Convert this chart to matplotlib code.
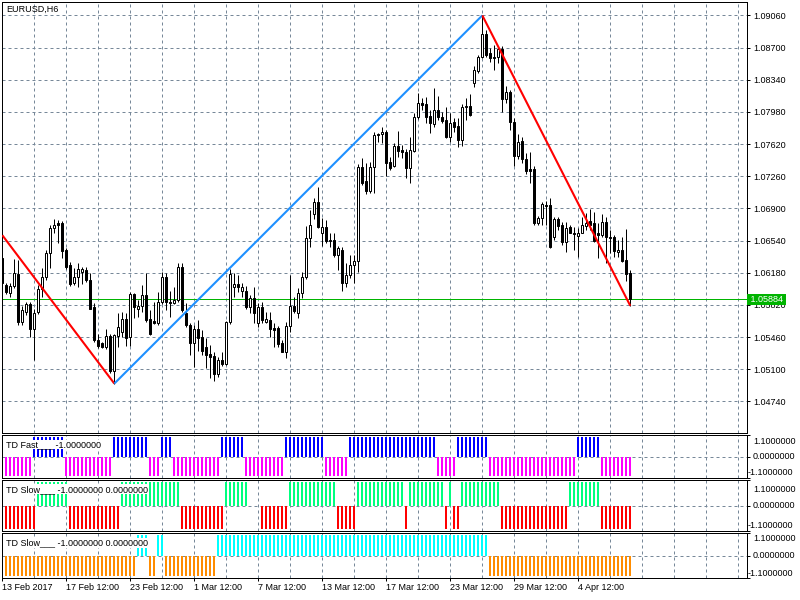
import numpy as np
import matplotlib.pyplot as plt
from matplotlib.transforms import blended_transform_factory

plt.rcParams['font.family'] = ['Liberation Sans', 'DejaVu Sans']
plt.rcParams['font.size'] = 6.5

W, H = 800, 600

# ------------------------------------------------------------
# data: EURUSD H6 candles, bar 0 = 13 Feb 2017 12:00
# ------------------------------------------------------------
opens = [1.0634, 1.0604, 1.0595, 1.0603, 1.0617, 1.0563, 1.0574, 1.0583, 1.0555, 1.0574,
         1.0600, 1.0613, 1.0640, 1.0668, 1.0674, 1.0674, 1.0643, 1.0627, 1.0606, 1.0613,
         1.0619, 1.0621, 1.0610, 1.0580, 1.0543, 1.0539, 1.0535, 1.0547, 1.0508, 1.0547,
         1.0552, 1.0566, 1.0546, 1.0594, 1.0578, 1.0581, 1.0593, 1.0566, 1.0564, 1.0562,
         1.0585, 1.0613, 1.0585, 1.0584, 1.0587, 1.0624, 1.0573, 1.0559, 1.0539, 1.0555,
         1.0546, 1.0535, 1.0527, 1.0525, 1.0505, 1.0520, 1.0516, 1.0563, 1.0602, 1.0605,
         1.0598, 1.0598, 1.0580, 1.0590, 1.0562, 1.0580, 1.0563, 1.0565, 1.0556, 1.0556,
         1.0539, 1.0529, 1.0558, 1.0581, 1.0573, 1.0595, 1.0613, 1.0657, 1.0684, 1.0697,
         1.0663, 1.0669, 1.0653, 1.0655, 1.0638, 1.0644, 1.0606, 1.0615, 1.0627, 1.0631,
         1.0736, 1.0721, 1.0710, 1.0736, 1.0773, 1.0773, 1.0776, 1.0742, 1.0737, 1.0760,
         1.0755, 1.0753, 1.0735, 1.0754, 1.0792, 1.0808, 1.0807, 1.0793, 1.0784, 1.0800,
         1.0792, 1.0789, 1.0770, 1.0787, 1.0782, 1.0767, 1.0803, 1.0805, 1.0830, 1.0844,
         1.0859, 1.0885, 1.0864, 1.0859, 1.0859, 1.0868, 1.0812, 1.0820, 1.0787, 1.0749,
         1.0765, 1.0745, 1.0734, 1.0734, 1.0674, 1.0679, 1.0694, 1.0694, 1.0658, 1.0678,
         1.0671, 1.0652, 1.0669, 1.0663, 1.0659, 1.0663, 1.0670, 1.0676, 1.0674, 1.0662,
         1.0660, 1.0675, 1.0658, 1.0658, 1.0641, 1.0644, 1.0632, 1.0618]
highs = [1.0638, 1.0606, 1.0606, 1.0633, 1.0632, 1.0581, 1.0585, 1.0585, 1.0577, 1.0604,
         1.0623, 1.0643, 1.0672, 1.0678, 1.0677, 1.0676, 1.0646, 1.0630, 1.0623, 1.0629,
         1.0624, 1.0625, 1.0618, 1.0584, 1.0550, 1.0540, 1.0555, 1.0549, 1.0550, 1.0573,
         1.0574, 1.0573, 1.0596, 1.0595, 1.0587, 1.0604, 1.0618, 1.0576, 1.0585, 1.0596,
         1.0619, 1.0618, 1.0598, 1.0602, 1.0629, 1.0629, 1.0584, 1.0562, 1.0559, 1.0565,
         1.0554, 1.0545, 1.0537, 1.0529, 1.0524, 1.0529, 1.0564, 1.0622, 1.0618, 1.0615,
         1.0606, 1.0603, 1.0593, 1.0602, 1.0584, 1.0585, 1.0574, 1.0574, 1.0562, 1.0558,
         1.0543, 1.0563, 1.0615, 1.0591, 1.0601, 1.0619, 1.0670, 1.0688, 1.0702, 1.0714,
         1.0679, 1.0677, 1.0662, 1.0662, 1.0648, 1.0647, 1.0629, 1.0638, 1.0638, 1.0740,
         1.0746, 1.0741, 1.0742, 1.0776, 1.0774, 1.0781, 1.0778, 1.0747, 1.0763, 1.0777,
         1.0761, 1.0757, 1.0770, 1.0797, 1.0819, 1.0814, 1.0815, 1.0800, 1.0825, 1.0816,
         1.0798, 1.0803, 1.0797, 1.0791, 1.0791, 1.0807, 1.0814, 1.0818, 1.0849, 1.0862,
         1.0906, 1.0890, 1.0870, 1.0873, 1.0872, 1.0872, 1.0827, 1.0823, 1.0791, 1.0773,
         1.0770, 1.0752, 1.0753, 1.0738, 1.0681, 1.0697, 1.0698, 1.0702, 1.0680, 1.0680,
         1.0675, 1.0675, 1.0671, 1.0669, 1.0668, 1.0680, 1.0685, 1.0689, 1.0686, 1.0674,
         1.0684, 1.0680, 1.0666, 1.0660, 1.0655, 1.0658, 1.0667, 1.0621]
lows = [1.0602, 1.0594, 1.0591, 1.0601, 1.0559, 1.0559, 1.0571, 1.0546, 1.0520, 1.0572,
        1.0591, 1.0610, 1.0623, 1.0662, 1.0651, 1.0634, 1.0622, 1.0603, 1.0604, 1.0602,
        1.0605, 1.0608, 1.0577, 1.0540, 1.0534, 1.0534, 1.0533, 1.0506, 1.0494, 1.0535,
        1.0546, 1.0536, 1.0536, 1.0567, 1.0568, 1.0574, 1.0563, 1.0548, 1.0561, 1.0559,
        1.0583, 1.0576, 1.0568, 1.0583, 1.0585, 1.0574, 1.0557, 1.0526, 1.0513, 1.0531,
        1.0526, 1.0511, 1.0500, 1.0497, 1.0501, 1.0514, 1.0515, 1.0561, 1.0591, 1.0596,
        1.0591, 1.0578, 1.0573, 1.0562, 1.0557, 1.0562, 1.0562, 1.0546, 1.0535, 1.0535,
        1.0529, 1.0523, 1.0552, 1.0573, 1.0567, 1.0590, 1.0611, 1.0647, 1.0678, 1.0668,
        1.0648, 1.0651, 1.0647, 1.0636, 1.0621, 1.0598, 1.0602, 1.0612, 1.0606, 1.0619,
        1.0716, 1.0706, 1.0707, 1.0707, 1.0764, 1.0763, 1.0726, 1.0733, 1.0736, 1.0747,
        1.0746, 1.0724, 1.0718, 1.0753, 1.0790, 1.0800, 1.0786, 1.0774, 1.0781, 1.0789,
        1.0786, 1.0769, 1.0764, 1.0776, 1.0759, 1.0760, 1.0789, 1.0793, 1.0826, 1.0841,
        1.0858, 1.0859, 1.0854, 1.0845, 1.0853, 1.0798, 1.0808, 1.0778, 1.0738, 1.0745,
        1.0741, 1.0729, 1.0719, 1.0671, 1.0672, 1.0671, 1.0671, 1.0646, 1.0655, 1.0666,
        1.0649, 1.0641, 1.0662, 1.0643, 1.0636, 1.0662, 1.0666, 1.0666, 1.0652, 1.0634,
        1.0658, 1.0629, 1.0640, 1.0636, 1.0636, 1.0630, 1.0609, 1.0581]
closes = [1.0606, 1.0596, 1.0603, 1.0618, 1.0563, 1.0576, 1.0583, 1.0555, 1.0573, 1.0600,
          1.0613, 1.0640, 1.0668, 1.0672, 1.0671, 1.0642, 1.0624, 1.0605, 1.0613, 1.0622,
          1.0622, 1.0610, 1.0578, 1.0543, 1.0536, 1.0535, 1.0547, 1.0508, 1.0548, 1.0557,
          1.0566, 1.0545, 1.0594, 1.0580, 1.0581, 1.0593, 1.0565, 1.0550, 1.0562, 1.0585,
          1.0613, 1.0585, 1.0584, 1.0588, 1.0624, 1.0576, 1.0559, 1.0539, 1.0555, 1.0545,
          1.0531, 1.0526, 1.0524, 1.0505, 1.0520, 1.0516, 1.0563, 1.0617, 1.0605, 1.0602,
          1.0602, 1.0580, 1.0590, 1.0573, 1.0580, 1.0565, 1.0566, 1.0555, 1.0554, 1.0538,
          1.0529, 1.0558, 1.0581, 1.0575, 1.0595, 1.0613, 1.0657, 1.0671, 1.0697, 1.0669,
          1.0669, 1.0653, 1.0655, 1.0638, 1.0646, 1.0606, 1.0615, 1.0627, 1.0631, 1.0736,
          1.0719, 1.0710, 1.0736, 1.0772, 1.0772, 1.0776, 1.0741, 1.0735, 1.0760, 1.0754,
          1.0753, 1.0735, 1.0755, 1.0792, 1.0808, 1.0806, 1.0792, 1.0786, 1.0800, 1.0792,
          1.0788, 1.0770, 1.0786, 1.0781, 1.0767, 1.0803, 1.0805, 1.0794, 1.0845, 1.0859,
          1.0885, 1.0862, 1.0858, 1.0858, 1.0868, 1.0812, 1.0820, 1.0787, 1.0749, 1.0764,
          1.0745, 1.0732, 1.0732, 1.0674, 1.0679, 1.0695, 1.0693, 1.0647, 1.0678, 1.0670,
          1.0652, 1.0668, 1.0663, 1.0661, 1.0663, 1.0672, 1.0674, 1.0672, 1.0653, 1.0660,
          1.0675, 1.0658, 1.0657, 1.0642, 1.0644, 1.0631, 1.0617, 1.05884]

bid = 1.05884

# zigzag swing points (bar index, price)
zz_bar = [0, 28, 120, 157]
zz_price = [1.0660, 1.0494, 1.0906, 1.0581]

price_ticks = [1.04740, 1.05100, 1.05460, 1.05820, 1.06180, 1.06540, 1.06900,
               1.07260, 1.07620, 1.07980, 1.08340, 1.08700, 1.09060]

time_bar = [0, 16, 32, 48, 64, 80, 96, 112, 128, 144]
time_labels = ['13 Feb 2017', '17 Feb 12:00', '23 Feb 12:00', '1 Mar 12:00',
               '7 Mar 12:00', '13 Mar 12:00', '17 Mar 12:00', '23 Mar 12:00',
               '29 Mar 12:00', '4 Apr 12:00']

# indicator histograms as runs (value, number of bars)
fast_vals = [0, -1, 1, -1, 1, -1, 1, -1, 1, -1, 1, -1, 1, -1, 1, -1, 1, -1]
fast_runs = [1, 7, 8, 12, 9, 3, 3, 12, 6, 10, 10, 6, 22, 5, 8, 22, 6, 8]
slow_vals = [0, -1, 1, -1, 1, -1, 1, 0, -1, 1, -1, 1, -1, 1, -1, 1, -1, 1, -1, 1, -1]
slow_runs = [1, 8, 8, 13, 15, 11, 6, 3, 7, 12, 5, 12, 1, 9, 1, 1, 2, 10, 17, 8, 8]
slow2_vals = [0, -1, 1, -1, 1, -1, 1, -1]
slow2_runs = [1, 33, 3, 2, 2, 13, 68, 36]

# ------------------------------------------------------------
# layout (pixel boxes)
# ------------------------------------------------------------
fig = plt.figure(figsize=(8, 6), dpi=100)
fig.patch.set_facecolor('white')


def px_axes(x0, y0, x1, y1):
    return fig.add_axes([x0 / W, 1 - y1 / H, (x1 - x0) / W, (y1 - y0) / H])


ax = px_axes(2, 2, 747, 433)
p1 = px_axes(2, 435, 747, 478)
p2 = px_axes(2, 480, 747, 531)
p3 = px_axes(2, 533, 747, 578)

XLIM = (-0.083, 186.17)
GRID = '#778899'
LW = 0.72
DASH = (0, (3, 3))
grid_k = np.arange(8, 187, 8)

for a in (ax, p1, p2, p3):
    a.set_xlim(*XLIM)
    a.set_axisbelow(True)
    for s in a.spines.values():
        s.set_linewidth(LW)
        s.set_color('black')
    a.set_xticks(grid_k)
    a.tick_params(axis='x', length=0, labelbottom=False)
    a.grid(True, axis='x', color=GRID, lw=LW, ls=DASH)

# ------------------------------------------------------------
# main price panel
# ------------------------------------------------------------
o = np.array(opens)
h = np.array(highs)
l = np.array(lows)
c = np.array(closes)
k = np.arange(len(o))

ax.set_ylim(1.04387, 1.09210)
ax.yaxis.tick_right()
ax.set_yticks(price_ticks)
ax.set_yticklabels(['%.5f' % p for p in price_ticks])
ax.tick_params(axis='y', length=2.2, width=LW, pad=2.2, labelsize=6.5)
ax.grid(True, axis='y', color=GRID, lw=LW, ls=DASH)

ax.axhline(bid, color='#00B400', lw=LW, zorder=1.5)

up = c >= o
ax.vlines(k, l, h, color='black', lw=LW, zorder=2)
ax.bar(k, np.abs(c - o), bottom=np.minimum(o, c), width=0.5,
       color=np.where(up, 'white', 'black'), edgecolor='black', lw=LW, zorder=3)

zz_colors = ['#FF0000' if zz_price[i + 1] < zz_price[i] else '#1E90FF'
             for i in range(len(zz_bar) - 1)]
for i, col in enumerate(zz_colors):
    ax.plot(zz_bar[i:i + 2], zz_price[i:i + 2], color=col, lw=1.5, zorder=4,
            solid_capstyle='butt')

ax.text(4 / 745, 0.983, 'EURUSD,H6', transform=ax.transAxes,
        ha='left', va='center', fontsize=6.5, color='black')

bt = blended_transform_factory(ax.transAxes, ax.transData)
ax.text(1.0013, bid, ' %.5f ' % bid, transform=bt, ha='left', va='center',
        color='white', fontsize=6.5, clip_on=False, zorder=10,
        bbox=dict(facecolor='#00B400', edgecolor='none', pad=0.6))

# ------------------------------------------------------------
# indicator sub-windows
# ------------------------------------------------------------
subs = [
    (p1, fast_vals, fast_runs, '#0000FF', '#FF00FF', 'TD Fast___ -1.0000000', 435, 478, 444.5),
    (p2, slow_vals, slow_runs, '#00FF7F', '#FF0000', 'TD Slow___ -1.0000000 0.0000000', 480, 531, 489.3),
    (p3, slow2_vals, slow2_runs, '#00FFFF', '#FF8C00', 'TD Slow___ -1.0000000 0.0000000', 533, 578, 542.7),
]
label_off = [(6, 5.3), (9.3, 5.3), (5.3, 4)]

for (a, vals, runs, cu, cd, name, top, bot, ty), (dt, db) in zip(subs, label_off):
    v = np.repeat(vals, runs)
    kk = np.arange(len(v))
    a.set_ylim(-1.1, 1.1)
    a.yaxis.tick_right()
    a.set_yticks([-1.1, 0, 1.1])
    a.set_yticklabels([])
    a.tick_params(axis='y', length=2.2, width=LW)
    a.axhline(0, color=GRID, lw=LW, ls=DASH, zorder=0.6)
    a.bar(kk, v, width=0.5, color=np.where(v > 0, cu, cd), lw=0, zorder=2)
    a.text(4 / 745, (bot - ty) / (bot - top), name, transform=a.transAxes,
           ha='left', va='center', fontsize=6.5, zorder=5,
           bbox=dict(facecolor='white', edgecolor='none', pad=0.3))
    mid = (top + bot) / 2
    fig.text(753 / W, 1 - (top + dt) / H, '1.1000000', ha='left', va='center', fontsize=6.5)
    fig.text(753 / W, 1 - mid / H, '0.0000000', ha='left', va='center', fontsize=6.5)
    fig.text(748 / W, 1 - (bot - db) / H, '-1.1000000', ha='left', va='center', fontsize=6.5)

# time axis on the last sub-window
p3.set_xticks(time_bar)
p3.set_xticks([g for g in grid_k if g not in time_bar], minor=True)
p3.set_xticklabels(time_labels)
p3.tick_params(axis='x', which='major', length=2.2, width=LW, pad=1.5,
               labelbottom=True, labelsize=6.5)
p3.tick_params(axis='x', which='minor', length=0)
p3.grid(True, axis='x', which='both', color=GRID, lw=LW, ls=DASH)
for t in p3.get_xticklabels():
    t.set_ha('left')

fig.savefig('out.png', dpi=100, facecolor='white')
